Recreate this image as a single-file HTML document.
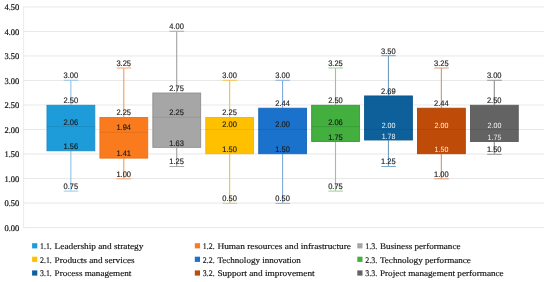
<!DOCTYPE html>
<html><head><meta charset="utf-8"><title>Box plot</title>
<style>
html,body{margin:0;padding:0;background:#fff;}
body{width:550px;height:282px;overflow:hidden;}
svg{display:block;text-rendering:geometricPrecision;}
.ax{font-family:"Liberation Serif",serif;font-size:8.7px;fill:#111;stroke:#111;stroke-width:0.2px;}
.lg{font-family:"Liberation Serif",serif;font-size:8.6px;fill:#111;stroke:#111;stroke-width:0.15px;}
.dl{font-family:"Liberation Sans",sans-serif;font-size:8px;text-anchor:middle;stroke-width:0.15px;}
</style></head><body>
<svg width="550" height="282" viewBox="0 0 550 282">
<rect width="550" height="282" fill="#ffffff"/>

<rect x="23" y="227.05" width="521" height="1" fill="#e8e8e8"/>
<rect x="23" y="202.54" width="521" height="1" fill="#e8e8e8"/>
<rect x="23" y="178.02" width="521" height="1" fill="#e8e8e8"/>
<rect x="23" y="153.50" width="521" height="1" fill="#e8e8e8"/>
<rect x="23" y="128.99" width="521" height="1" fill="#e8e8e8"/>
<rect x="23" y="104.48" width="521" height="1" fill="#e8e8e8"/>
<rect x="23" y="79.96" width="521" height="1" fill="#e8e8e8"/>
<rect x="23" y="55.44" width="521" height="1" fill="#e8e8e8"/>
<rect x="23" y="30.93" width="521" height="1" fill="#e8e8e8"/>
<rect x="23" y="6.42" width="521" height="1" fill="#e8e8e8"/>
<rect x="23.1" y="7" width="1" height="221" fill="#ebebeb"/>
<text class="ax" x="19.3" y="230.95" text-anchor="end" textLength="14.8" lengthAdjust="spacingAndGlyphs">0.00</text>
<text class="ax" x="19.3" y="206.44" text-anchor="end" textLength="14.8" lengthAdjust="spacingAndGlyphs">0.50</text>
<text class="ax" x="19.3" y="181.92" text-anchor="end" textLength="14.8" lengthAdjust="spacingAndGlyphs">1.00</text>
<text class="ax" x="19.3" y="157.41" text-anchor="end" textLength="14.8" lengthAdjust="spacingAndGlyphs">1.50</text>
<text class="ax" x="19.3" y="132.89" text-anchor="end" textLength="14.8" lengthAdjust="spacingAndGlyphs">2.00</text>
<text class="ax" x="19.3" y="108.38" text-anchor="end" textLength="14.8" lengthAdjust="spacingAndGlyphs">2.50</text>
<text class="ax" x="19.3" y="83.86" text-anchor="end" textLength="14.8" lengthAdjust="spacingAndGlyphs">3.00</text>
<text class="ax" x="19.3" y="59.34" text-anchor="end" textLength="14.8" lengthAdjust="spacingAndGlyphs">3.50</text>
<text class="ax" x="19.3" y="34.83" text-anchor="end" textLength="14.8" lengthAdjust="spacingAndGlyphs">4.00</text>
<text class="ax" x="19.3" y="10.32" text-anchor="end" textLength="14.8" lengthAdjust="spacingAndGlyphs">4.50</text>
<rect x="70.30" y="80.46" width="1.1" height="24.52" fill="#8FC3E6"/>
<rect x="70.30" y="151.06" width="1.1" height="39.71" fill="#8FC3E6"/>
<rect x="63.70" y="79.81" width="14.6" height="0.9" fill="#8FC3E6"/>
<rect x="63.70" y="190.63" width="14.6" height="0.9" fill="#8FC3E6"/>
<rect x="47.00" y="105.28" width="47.8" height="45.49" fill="#1E9BD9" stroke="#1B8CC6" stroke-width="0.9"/>
<rect x="46.70" y="126.05" width="48.4" height="1" fill="#1A86BD" fill-opacity="0.6"/>
<text class="dl" x="70.80" y="78.46" fill="#1a1a1a" stroke="#1a1a1a" textLength="14.6" lengthAdjust="spacingAndGlyphs">3.00</text>
<text class="dl" x="70.80" y="102.98" fill="#1a1a1a" stroke="#1a1a1a" textLength="14.6" lengthAdjust="spacingAndGlyphs">2.50</text>
<text class="dl" x="70.80" y="124.55" fill="#1a1a1a" stroke="#1a1a1a" textLength="14.6" lengthAdjust="spacingAndGlyphs">2.06</text>
<text class="dl" x="70.80" y="149.06" fill="#1a1a1a" stroke="#1a1a1a" textLength="14.6" lengthAdjust="spacingAndGlyphs">1.56</text>
<text class="dl" x="70.80" y="188.78" fill="#1a1a1a" stroke="#1a1a1a" textLength="14.6" lengthAdjust="spacingAndGlyphs">0.75</text>
<rect x="123.23" y="68.20" width="1.1" height="49.03" fill="#F79A5C"/>
<rect x="123.23" y="158.42" width="1.1" height="20.10" fill="#F79A5C"/>
<rect x="116.63" y="67.55" width="14.6" height="0.9" fill="#F79A5C"/>
<rect x="116.63" y="178.37" width="14.6" height="0.9" fill="#F79A5C"/>
<rect x="99.93" y="117.53" width="47.8" height="40.59" fill="#F97B1E" stroke="#E8721B" stroke-width="0.9"/>
<rect x="99.63" y="131.93" width="48.4" height="1" fill="#DD6C18" fill-opacity="0.6"/>
<text class="dl" x="123.73" y="66.20" fill="#1a1a1a" stroke="#1a1a1a" textLength="14.6" lengthAdjust="spacingAndGlyphs">3.25</text>
<text class="dl" x="123.73" y="115.23" fill="#1a1a1a" stroke="#1a1a1a" textLength="14.6" lengthAdjust="spacingAndGlyphs">2.25</text>
<text class="dl" x="123.73" y="130.43" fill="#1a1a1a" stroke="#1a1a1a" textLength="14.6" lengthAdjust="spacingAndGlyphs">1.94</text>
<text class="dl" x="123.73" y="156.42" fill="#1a1a1a" stroke="#1a1a1a" textLength="14.6" lengthAdjust="spacingAndGlyphs">1.41</text>
<text class="dl" x="123.73" y="176.52" fill="#1a1a1a" stroke="#1a1a1a" textLength="14.6" lengthAdjust="spacingAndGlyphs">1.00</text>
<rect x="176.16" y="31.43" width="1.1" height="61.29" fill="#A0A0A0"/>
<rect x="176.16" y="147.63" width="1.1" height="18.63" fill="#A0A0A0"/>
<rect x="169.56" y="30.78" width="14.6" height="0.9" fill="#A0A0A0"/>
<rect x="169.56" y="166.11" width="14.6" height="0.9" fill="#A0A0A0"/>
<rect x="152.86" y="93.02" width="47.8" height="54.31" fill="#A6A6A6" stroke="#8E8E8E" stroke-width="0.9"/>
<rect x="152.56" y="116.73" width="48.4" height="1" fill="#8E8E8E" fill-opacity="0.6"/>
<text class="dl" x="176.66" y="29.43" fill="#1a1a1a" stroke="#1a1a1a" textLength="14.6" lengthAdjust="spacingAndGlyphs">4.00</text>
<text class="dl" x="176.66" y="90.72" fill="#1a1a1a" stroke="#1a1a1a" textLength="14.6" lengthAdjust="spacingAndGlyphs">2.75</text>
<text class="dl" x="176.66" y="115.23" fill="#1a1a1a" stroke="#1a1a1a" textLength="14.6" lengthAdjust="spacingAndGlyphs">2.25</text>
<text class="dl" x="176.66" y="145.63" fill="#1a1a1a" stroke="#1a1a1a" textLength="14.6" lengthAdjust="spacingAndGlyphs">1.63</text>
<text class="dl" x="176.66" y="164.26" fill="#1a1a1a" stroke="#1a1a1a" textLength="14.6" lengthAdjust="spacingAndGlyphs">1.25</text>
<rect x="229.09" y="80.46" width="1.1" height="36.77" fill="#F6BE3E"/>
<rect x="229.09" y="154.00" width="1.1" height="49.03" fill="#F6BE3E"/>
<rect x="222.49" y="79.81" width="14.6" height="0.9" fill="#F6BE3E"/>
<rect x="222.49" y="202.89" width="14.6" height="0.9" fill="#F6BE3E"/>
<rect x="205.79" y="117.53" width="47.8" height="36.17" fill="#FFC000" stroke="#F2B600" stroke-width="0.9"/>
<rect x="205.49" y="128.99" width="48.4" height="1" fill="#E6AD00" fill-opacity="0.6"/>
<text class="dl" x="229.59" y="78.46" fill="#1a1a1a" stroke="#1a1a1a" textLength="14.6" lengthAdjust="spacingAndGlyphs">3.00</text>
<text class="dl" x="229.59" y="115.23" fill="#1a1a1a" stroke="#1a1a1a" textLength="14.6" lengthAdjust="spacingAndGlyphs">2.25</text>
<text class="dl" x="229.59" y="127.49" fill="#1a1a1a" stroke="#1a1a1a" textLength="14.6" lengthAdjust="spacingAndGlyphs">2.00</text>
<text class="dl" x="229.59" y="152.00" fill="#1a1a1a" stroke="#1a1a1a" textLength="14.6" lengthAdjust="spacingAndGlyphs">1.50</text>
<text class="dl" x="229.59" y="201.04" fill="#1a1a1a" stroke="#1a1a1a" textLength="14.6" lengthAdjust="spacingAndGlyphs">0.50</text>
<rect x="282.02" y="80.46" width="1.1" height="27.46" fill="#7FAADB"/>
<rect x="282.02" y="154.00" width="1.1" height="49.03" fill="#7FAADB"/>
<rect x="275.42" y="79.81" width="14.6" height="0.9" fill="#7FAADB"/>
<rect x="275.42" y="202.89" width="14.6" height="0.9" fill="#7FAADB"/>
<rect x="258.72" y="108.22" width="47.8" height="45.49" fill="#1A72CC" stroke="#1867B8" stroke-width="0.9"/>
<rect x="258.42" y="128.99" width="48.4" height="1" fill="#1663B0" fill-opacity="0.6"/>
<text class="dl" x="282.52" y="78.46" fill="#1a1a1a" stroke="#1a1a1a" textLength="14.6" lengthAdjust="spacingAndGlyphs">3.00</text>
<text class="dl" x="282.52" y="105.92" fill="#1a1a1a" stroke="#1a1a1a" textLength="14.6" lengthAdjust="spacingAndGlyphs">2.44</text>
<text class="dl" x="282.52" y="127.49" fill="#1a1a1a" stroke="#1a1a1a" textLength="14.6" lengthAdjust="spacingAndGlyphs">2.00</text>
<text class="dl" x="282.52" y="152.00" fill="#1a1a1a" stroke="#1a1a1a" textLength="14.6" lengthAdjust="spacingAndGlyphs">1.50</text>
<text class="dl" x="282.52" y="201.04" fill="#1a1a1a" stroke="#1a1a1a" textLength="14.6" lengthAdjust="spacingAndGlyphs">0.50</text>
<rect x="334.95" y="68.20" width="1.1" height="36.77" fill="#8CCB8C"/>
<rect x="334.95" y="141.75" width="1.1" height="49.03" fill="#8CCB8C"/>
<rect x="328.35" y="67.55" width="14.6" height="0.9" fill="#8CCB8C"/>
<rect x="328.35" y="190.63" width="14.6" height="0.9" fill="#8CCB8C"/>
<rect x="311.65" y="105.28" width="47.8" height="36.17" fill="#43AF3E" stroke="#37993A" stroke-width="0.9"/>
<rect x="311.35" y="126.05" width="48.4" height="1" fill="#369636" fill-opacity="0.6"/>
<text class="dl" x="335.45" y="66.20" fill="#1a1a1a" stroke="#1a1a1a" textLength="14.6" lengthAdjust="spacingAndGlyphs">3.25</text>
<text class="dl" x="335.45" y="102.98" fill="#1a1a1a" stroke="#1a1a1a" textLength="14.6" lengthAdjust="spacingAndGlyphs">2.50</text>
<text class="dl" x="335.45" y="124.55" fill="#1a1a1a" stroke="#1a1a1a" textLength="14.6" lengthAdjust="spacingAndGlyphs">2.06</text>
<text class="dl" x="335.45" y="139.75" fill="#1a1a1a" stroke="#1a1a1a" textLength="14.6" lengthAdjust="spacingAndGlyphs">1.75</text>
<text class="dl" x="335.45" y="188.78" fill="#1a1a1a" stroke="#1a1a1a" textLength="14.6" lengthAdjust="spacingAndGlyphs">0.75</text>
<rect x="387.88" y="55.94" width="1.1" height="39.71" fill="#6F9EC3"/>
<rect x="387.88" y="140.28" width="1.1" height="25.99" fill="#6F9EC3"/>
<rect x="381.28" y="55.29" width="14.6" height="0.9" fill="#6F9EC3"/>
<rect x="381.28" y="166.11" width="14.6" height="0.9" fill="#6F9EC3"/>
<rect x="364.58" y="95.96" width="47.8" height="44.02" fill="#0E609A" stroke="#0C578B" stroke-width="0.9"/>
<rect x="364.28" y="128.99" width="48.4" height="1" fill="#0B5283" fill-opacity="0.45"/>
<text class="dl" x="388.38" y="53.94" fill="#1a1a1a" stroke="#1a1a1a" textLength="14.6" lengthAdjust="spacingAndGlyphs">3.50</text>
<text class="dl" x="388.38" y="93.66" fill="#1a1a1a" stroke="#1a1a1a" textLength="14.6" lengthAdjust="spacingAndGlyphs">2.69</text>
<text class="dl" x="388.58" y="127.89" fill="#fff" fill-opacity="0.93" style="font-size:7.7px" textLength="13.8" lengthAdjust="spacingAndGlyphs">2.00</text>
<text class="dl" x="388.58" y="138.68" fill="#fff" fill-opacity="0.93" style="font-size:7.7px" textLength="13.8" lengthAdjust="spacingAndGlyphs">1.78</text>
<text class="dl" x="388.38" y="164.26" fill="#1a1a1a" stroke="#1a1a1a" textLength="14.6" lengthAdjust="spacingAndGlyphs">1.25</text>
<rect x="440.81" y="68.20" width="1.1" height="39.71" fill="#DB9068"/>
<rect x="440.81" y="154.00" width="1.1" height="24.52" fill="#DB9068"/>
<rect x="434.21" y="67.55" width="14.6" height="0.9" fill="#DB9068"/>
<rect x="434.21" y="178.37" width="14.6" height="0.9" fill="#DB9068"/>
<rect x="417.51" y="108.22" width="47.8" height="45.49" fill="#BE4B07" stroke="#AB4406" stroke-width="0.9"/>
<rect x="417.21" y="128.99" width="48.4" height="1" fill="#A64206" fill-opacity="0.45"/>
<text class="dl" x="441.31" y="66.20" fill="#1a1a1a" stroke="#1a1a1a" textLength="14.6" lengthAdjust="spacingAndGlyphs">3.25</text>
<text class="dl" x="441.31" y="105.92" fill="#1a1a1a" stroke="#1a1a1a" textLength="14.6" lengthAdjust="spacingAndGlyphs">2.44</text>
<text class="dl" x="441.51" y="127.89" fill="#fff" fill-opacity="0.93" style="font-size:7.7px" textLength="13.8" lengthAdjust="spacingAndGlyphs">2.00</text>
<text class="dl" x="441.51" y="152.41" fill="#fff" fill-opacity="0.93" style="font-size:7.7px" textLength="13.8" lengthAdjust="spacingAndGlyphs">1.50</text>
<text class="dl" x="441.31" y="176.52" fill="#1a1a1a" stroke="#1a1a1a" textLength="14.6" lengthAdjust="spacingAndGlyphs">1.00</text>
<rect x="493.74" y="80.46" width="1.1" height="24.52" fill="#8E8E8E"/>
<rect x="493.74" y="141.75" width="1.1" height="12.26" fill="#8E8E8E"/>
<rect x="487.14" y="79.81" width="14.6" height="0.9" fill="#8E8E8E"/>
<rect x="487.14" y="153.85" width="14.6" height="0.9" fill="#8E8E8E"/>
<rect x="470.44" y="105.28" width="47.8" height="36.17" fill="#636363" stroke="#595959" stroke-width="0.9"/>
<rect x="470.14" y="128.99" width="48.4" height="1" fill="#555555" fill-opacity="0.45"/>
<text class="dl" x="494.24" y="78.46" fill="#1a1a1a" stroke="#1a1a1a" textLength="14.6" lengthAdjust="spacingAndGlyphs">3.00</text>
<text class="dl" x="494.24" y="102.98" fill="#1a1a1a" stroke="#1a1a1a" textLength="14.6" lengthAdjust="spacingAndGlyphs">2.50</text>
<text class="dl" x="494.44" y="127.89" fill="#fff" fill-opacity="0.93" style="font-size:7.7px" textLength="13.8" lengthAdjust="spacingAndGlyphs">2.00</text>
<text class="dl" x="494.44" y="140.15" fill="#fff" fill-opacity="0.93" style="font-size:7.7px" textLength="13.8" lengthAdjust="spacingAndGlyphs">1.75</text>
<text class="dl" x="494.24" y="152.00" fill="#1a1a1a" stroke="#1a1a1a" textLength="14.6" lengthAdjust="spacingAndGlyphs">1.50</text>
<rect x="32.10" y="243.20" width="5.2" height="5.2" fill="#1E9BD9"/>
<text class="lg" x="40.0" y="249.0" textLength="11.8" lengthAdjust="spacingAndGlyphs">1.1.</text>
<text class="lg" x="54.6" y="249.0" textLength="88.8" lengthAdjust="spacingAndGlyphs">Leadership and strategy</text>
<rect x="194.80" y="243.20" width="5.2" height="5.2" fill="#F97B1E"/>
<text class="lg" x="202.8" y="249.0" textLength="11.8" lengthAdjust="spacingAndGlyphs">1.2.</text>
<text class="lg" x="217.4" y="249.0" textLength="133.6" lengthAdjust="spacingAndGlyphs">Human resources and infrastructure</text>
<rect x="357.30" y="243.20" width="5.2" height="5.2" fill="#A6A6A6"/>
<text class="lg" x="365.3" y="249.0" textLength="11.8" lengthAdjust="spacingAndGlyphs">1.3.</text>
<text class="lg" x="379.9" y="249.0" textLength="80.6" lengthAdjust="spacingAndGlyphs">Business performance</text>
<rect x="32.10" y="256.70" width="5.2" height="5.2" fill="#FFC000"/>
<text class="lg" x="40.0" y="262.5" textLength="11.8" lengthAdjust="spacingAndGlyphs">2.1.</text>
<text class="lg" x="54.6" y="262.5" textLength="80.0" lengthAdjust="spacingAndGlyphs">Products and services</text>
<rect x="194.80" y="256.70" width="5.2" height="5.2" fill="#1A72CC"/>
<text class="lg" x="202.8" y="262.5" textLength="11.8" lengthAdjust="spacingAndGlyphs">2.2.</text>
<text class="lg" x="217.4" y="262.5" textLength="83.5" lengthAdjust="spacingAndGlyphs">Technology innovation</text>
<rect x="357.30" y="256.70" width="5.2" height="5.2" fill="#43AF3E"/>
<text class="lg" x="365.3" y="262.5" textLength="11.8" lengthAdjust="spacingAndGlyphs">2.3.</text>
<text class="lg" x="379.9" y="262.5" textLength="91.0" lengthAdjust="spacingAndGlyphs">Technology performance</text>
<rect x="32.10" y="270.40" width="5.2" height="5.2" fill="#0E609A"/>
<text class="lg" x="40.0" y="276.2" textLength="11.8" lengthAdjust="spacingAndGlyphs">3.1.</text>
<text class="lg" x="54.6" y="276.2" textLength="76.7" lengthAdjust="spacingAndGlyphs">Process management</text>
<rect x="194.80" y="270.40" width="5.2" height="5.2" fill="#BE4B07"/>
<text class="lg" x="202.8" y="276.2" textLength="11.8" lengthAdjust="spacingAndGlyphs">3.2.</text>
<text class="lg" x="217.4" y="276.2" textLength="97.3" lengthAdjust="spacingAndGlyphs">Support and improvement</text>
<rect x="357.30" y="270.40" width="5.2" height="5.2" fill="#636363"/>
<text class="lg" x="365.3" y="276.2" textLength="11.8" lengthAdjust="spacingAndGlyphs">3.3.</text>
<text class="lg" x="379.9" y="276.2" textLength="123.8" lengthAdjust="spacingAndGlyphs">Project management performance</text>
</svg></body></html>
